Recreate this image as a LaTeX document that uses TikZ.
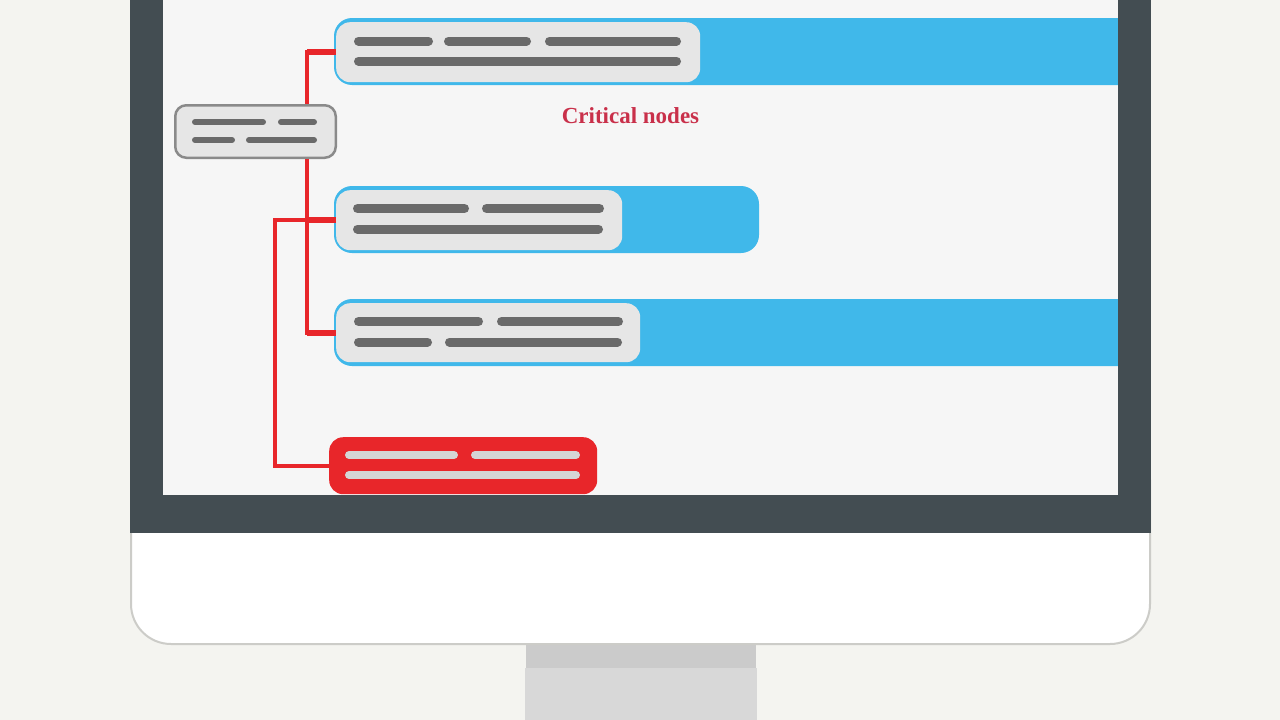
\documentclass[tikz,border=0pt]{standalone}
\usepackage{fontspec}
\setmainfont{Liberation Serif}
\definecolor{pagebg}{HTML}{F4F4F0}
\definecolor{screenbg}{HTML}{F6F6F6}
\definecolor{bezel}{HTML}{434D52}
\definecolor{chinline}{HTML}{CCCCC8}
\definecolor{standtop}{HTML}{CBCBCB}
\definecolor{standlow}{HTML}{D8D8D8}
\definecolor{barblue}{HTML}{40B8EA}
\definecolor{boxgray}{HTML}{E6E6E6}
\definecolor{rootline}{HTML}{8A8A8A}
\definecolor{linegray}{HTML}{6A6A6A}
\definecolor{linelight}{HTML}{D5D5D5}
\definecolor{alertred}{HTML}{E8262A}
\definecolor{labelred}{HTML}{C9304A}
\tikzset{
  x=1pt,y=-1pt,
  taskbox/.style={rectangle,rounded corners=14pt,fill=boxgray,inner sep=0pt,anchor=north west},
  rootbox/.style={rectangle,rounded corners=11pt,fill=boxgray,draw=rootline,line width=2.5pt,inner sep=0pt,anchor=north west,minimum width=160.5pt,minimum height=52.5pt},
  alertbox/.style={rectangle,rounded corners=14pt,fill=alertred,inner sep=0pt,anchor=north west,minimum width=268pt,minimum height=57pt},
  wire/.style={draw=alertred,line width=4pt,line join=miter},
  wirestub/.style={draw=alertred,line width=6pt},
  textbar/.style={draw=linegray,line width=9pt,line cap=round,shorten >=4.5pt,shorten <=4.5pt},
  smallbar/.style={draw=linegray,line width=6pt,line cap=round,shorten >=3pt,shorten <=3pt},
  lightbar/.style={draw=linelight,line width=8pt,line cap=round,shorten >=4pt,shorten <=4pt},
}
\begin{document}
\begin{tikzpicture}
\useasboundingbox (0,0) rectangle (1280,720);
\fill[pagebg] (0,0) rectangle (1280,720);
% stand
\fill[standlow] (525,668) rectangle (757,720);
\fill[standtop] (526,640) rectangle (756,668);
% monitor
\filldraw[fill=white,draw=chinline,line width=2pt,rounded corners=40pt] (1150,440) -- (131,440) -- (131,644) -- (1150,644) -- cycle;
\fill[bezel] (130,0) rectangle (1151,533);
\fill[screenbg] (163,0) rectangle (1118,495);
% blue bars
\fill[barblue,rounded corners=18pt] (1140,18) -- (334,18) -- (334,85) -- (1140,85) -- cycle;
\fill[barblue,rounded corners=18pt] (334,186) rectangle (759,253);
\fill[barblue,rounded corners=18pt] (1140,299) -- (334,299) -- (334,366) -- (1140,366) -- cycle;
\fill[bezel] (1118,0) rectangle (1151,533);
% nodes
\coordinate (trunkA) at (307,0);
\coordinate (trunkB) at (275,0);
\node[taskbox,minimum width=364pt,minimum height=60pt] (task1) at (336,22) {};
\node[taskbox,minimum width=286pt,minimum height=60pt] (task2) at (336,190) {};
\node[taskbox,minimum width=304pt,minimum height=59pt] (task3) at (336,303) {};
\node[rootbox] (root) at (174,104) {};
\node[alertbox] (alert) at (329,437) {};
\node[text=labelred,font=\bfseries\fontsize{23}{26}\selectfont,inner sep=0pt] (label) at (630.5,116) {Critical nodes};
% connectors
\draw[wire] (root.north -| trunkA) |- (task1.west);
\draw[wire] (root.south -| trunkA) |- (task3.west);
\draw[wire] (task2.west) -| (alert.west -| trunkB) -- (alert.west);
\draw[wirestub] (task1.west -| trunkA) -- (task1.west);
\draw[wirestub] (task2.west -| trunkA) -- (task2.west);
\draw[wirestub] (task3.west -| trunkA) -- (task3.west);
% text bars
\draw[textbar] (354,41) -- (433,41);
\draw[textbar] (444,41) -- (531,41);
\draw[textbar] (545,41) -- (681,41);
\draw[textbar] (354,61) -- (681,61);
\draw[smallbar] (192,122) -- (266,122);
\draw[smallbar] (278,122) -- (317,122);
\draw[smallbar] (192,140) -- (235,140);
\draw[smallbar] (246,140) -- (317,140);
\draw[textbar] (353,208.5) -- (469,208.5);
\draw[textbar] (482,208.5) -- (604,208.5);
\draw[textbar] (353,229) -- (603,229);
\draw[textbar] (354,321.5) -- (483,321.5);
\draw[textbar] (497,321.5) -- (623,321.5);
\draw[textbar] (354,342) -- (432,342);
\draw[textbar] (445,342) -- (622,342);
\draw[lightbar] (345,455) -- (458,455);
\draw[lightbar] (471,455) -- (580,455);
\draw[lightbar] (345,475) -- (580,475);
\end{tikzpicture}
\end{document}
